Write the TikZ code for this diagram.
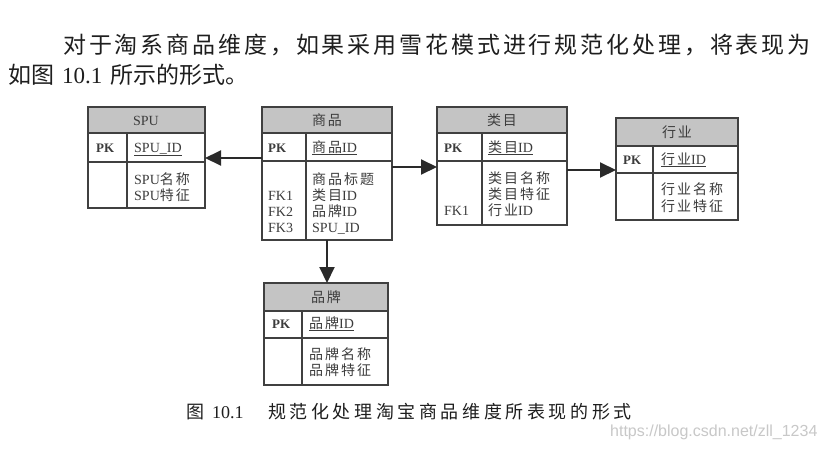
\documentclass[tikz,border=0pt]{standalone}
\usepackage{fontspec}
\setmainfont{Liberation Serif}
\newfontfamily\zhb[LetterSpace=12.5]{Noto Sans CJK SC}
\newfontfamily\zhn{Noto Sans CJK SC}
\newfontfamily\zht[LetterSpace=14]{Noto Sans CJK SC}
\newfontfamily\zhc[LetterSpace=20]{Noto Sans CJK SC}
\newfontfamily\wmfont{Liberation Sans}
\usetikzlibrary{arrows.meta}
\definecolor{hdr}{HTML}{C4C4C4}
\definecolor{ln}{HTML}{404040}
\definecolor{tg}{HTML}{3C3C3C}
\definecolor{bk}{HTML}{1E1E1E}
\definecolor{arc}{HTML}{2A2A2A}
\definecolor{wmc}{HTML}{C8C8C8}
\tikzset{
  tbl/.style={anchor=north west, inner sep=0pt, outer sep=0pt},
  tline/.style={draw=ln, line width=1.2pt},
  hdrfill/.style={fill=hdr},
  arr/.style={draw=arc, line width=2pt, -{Triangle[length=16pt,width=15pt]}},
  tx/.style={anchor=base west, yshift=-5pt, inner sep=0pt, text=tg, font=\fontsize{14}{16}\selectfont},
  th/.style={anchor=base, yshift=-5pt, inner sep=0pt, text=tg, font=\fontsize{14}{16}\selectfont},
  pkl/.style={tx, font=\fontsize{13}{16}\selectfont\bfseries},
  bodytext/.style={anchor=base west, yshift=-8pt, inner sep=0pt, text=bk, font=\fontsize{23}{25}\selectfont},
  captext/.style={anchor=base west, yshift=-7pt, inner sep=0pt, text=bk, font=\fontsize{18}{20}\selectfont},
  wmark/.style={anchor=base west, yshift=-6pt, inner sep=0pt, text=wmc, font=\wmfont\fontsize{16}{18}\selectfont},
}
\newcommand\ertable[8]{%
  \node[tbl, minimum width=#4pt, minimum height=#5pt] (#1) at (#2,#3) {};
  \fill[hdrfill] (#1.north west) rectangle ([yshift=-#6pt]#1.north east);
  \draw[tline] ([yshift=-#6pt]#1.north west) -- ([yshift=-#6pt]#1.north east);
  \draw[tline] ([yshift=-#7pt]#1.north west) -- ([yshift=-#7pt]#1.north east);
  \draw[tline] ([xshift=#8pt,yshift=-#6pt]#1.north west) -- ([xshift=#8pt]#1.south west);
  \draw[tline] (#1.north west) rectangle (#1.south east);
}
\begin{document}
\begin{tikzpicture}[x=1pt,y=-1pt]
\useasboundingbox[fill=white] (0,0) rectangle (828,450);

% paragraph
\node[bodytext] (p1) at (63,45) {{\zhb 对于淘系商品维度，如果采用雪花模式进行规范化处理，将表现为}};
\node[bodytext] (p2) at (8,75) {{\zhn 如图}\hspace{8pt}10.1\hspace{8pt}{\zhn 所示的形式。}};

% tables
\ertable{spu}{88}{107}{117}{101}{26}{55}{39}
\ertable{sp}{262}{107}{130}{133}{26}{54}{44}
\ertable{lm}{437}{107}{130}{118}{26}{54}{45}
\ertable{hy}{616}{118}{122}{102}{28}{55}{37}
\ertable{pp}{264}{283}{124}{102}{28}{55}{38}

% SPU
\node[th] (spuh) at (146,120) {SPU};
\node[pkl] (spupk) at (96,147) {PK};
\node[tx] (spuid) at (134,147) {\underline{SPU\_ID}};
\node[tx] (spu1) at (134,179) {SPU{\zht 名称}};
\node[tx] (spu2) at (134,195) {SPU{\zht 特征}};

% 商品
\node[th] (sph) at (327,120) {{\zht 商品}};
\node[pkl] (sppk) at (268,147) {PK};
\node[tx] (spid) at (312,147) {\underline{{\zht 商品}ID}};
\node[tx] (sp1) at (312,179) {{\zht 商品标题}};
\node[tx] (sp2) at (312,195) {{\zht 类目}ID};
\node[tx] (sp3) at (312,211) {{\zht 品牌}ID};
\node[tx] (sp4) at (312,227) {SPU\_ID};
\node[tx] (fk1) at (268,195) {FK1};
\node[tx] (fk2) at (268,211) {FK2};
\node[tx] (fk3) at (268,227) {FK3};

% 类目
\node[th] (lmh) at (502,120) {{\zht 类目}};
\node[pkl] (lmpk) at (444,147) {PK};
\node[tx] (lmid) at (488,147) {\underline{{\zht 类目}ID}};
\node[tx] (lm1) at (488,178) {{\zht 类目名称}};
\node[tx] (lm2) at (488,194) {{\zht 类目特征}};
\node[tx] (lmfk) at (444,210) {FK1};
\node[tx] (lm3) at (488,210) {{\zht 行业}ID};

% 行业
\node[th] (hyh) at (677,132) {{\zht 行业}};
\node[pkl] (hypk) at (623,159) {PK};
\node[tx] (hyid) at (661,159) {\underline{{\zht 行业}ID}};
\node[tx] (hy1) at (661,189) {{\zht 行业名称}};
\node[tx] (hy2) at (661,206) {{\zht 行业特征}};

% 品牌
\node[th] (pph) at (326,297) {{\zht 品牌}};
\node[pkl] (pppk) at (272,323) {PK};
\node[tx] (ppid) at (309,323) {\underline{{\zht 品牌}ID}};
\node[tx] (pp1) at (309,354) {{\zht 品牌名称}};
\node[tx] (pp2) at (309,370) {{\zht 品牌特征}};

% connectors
\draw[arr] ([yshift=-51pt]sp.north west) -- ([yshift=-51pt]spu.north east);
\draw[arr] ([yshift=-60pt]sp.north east) -- ([yshift=-60pt]lm.north west);
\draw[arr] ([yshift=-63pt]lm.north east) -- ([yshift=-52pt]hy.north west);
\draw[arr] (sp.south) -- (sp.south |- pp.north);

% caption
\node[captext] (cap1) at (186,411) {{\zhn 图}\hspace{8pt}10.1};
\node[captext] (cap2) at (268,411) {{\zhc 规范化处理淘宝商品维度所表现的形式}};
\node[wmark] (wm) at (610,430) {https://blog.csdn.net/zll\_1234};
\end{tikzpicture}
\end{document}
